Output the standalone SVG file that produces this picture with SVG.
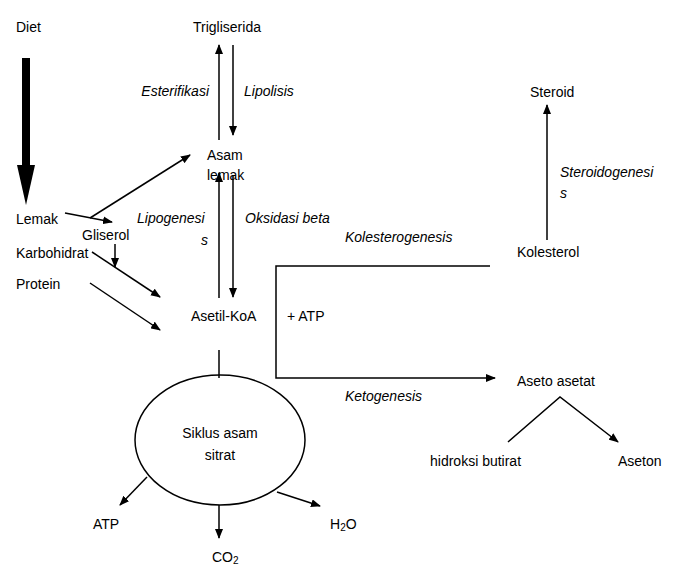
<svg xmlns="http://www.w3.org/2000/svg" width="681" height="572" viewBox="0 0 681 572">
<defs>
<marker id="a" markerWidth="10" markerHeight="8" refX="9" refY="4" orient="auto" markerUnits="userSpaceOnUse"><path d="M0,0 L10,4 L0,8 z" fill="#000"/></marker>
<style>
text{font-family:"Liberation Sans",Arial,sans-serif;font-size:14px;fill:#000}
.i{font-style:italic}
.c{stroke:#000;stroke-width:1.5;fill:none}
.m{marker-end:url(#a)}
</style>
</defs>
<rect width="681" height="572" fill="#fff"/>
<g id="connectors">
<rect x="22" y="58" width="8" height="110" fill="#000"/>
<path d="M17,165 L35,165 L26,205 z" fill="#000"/>
<line class="c m" x1="219" y1="140" x2="219" y2="45"/>
<line class="c m" x1="233" y1="45" x2="233" y2="135"/>
<line class="c m" x1="65" y1="213" x2="112" y2="222"/>
<line class="c m" x1="90" y1="218" x2="190" y2="155"/>
<line class="c m" x1="115" y1="244" x2="115" y2="267"/>
<line class="c m" x1="92" y1="252" x2="160" y2="297"/>
<line class="c m" x1="90" y1="283" x2="160" y2="330"/>
<line class="c m" x1="219" y1="298" x2="219" y2="173"/>
<line class="c m" x1="233" y1="175" x2="233" y2="297"/>
<line class="c" x1="219" y1="350" x2="219" y2="378"/>
<line class="c m" x1="147" y1="477" x2="120" y2="505"/>
<line class="c m" x1="219" y1="505" x2="219" y2="538"/>
<line class="c m" x1="277" y1="492" x2="320" y2="506"/>
<polyline class="c m" points="490,266 276,266 276,378 495,378"/>
<line class="c m" x1="547" y1="240" x2="547" y2="105"/>
<polyline class="c m" points="508,442 560,397 618,442"/>
</g>
<g id="diet"><text x="16" y="32">Diet</text></g>
<g id="trigliserida"><text x="227" y="32" text-anchor="middle">Trigliserida</text></g>
<g id="asam-lemak"><text x="207" y="160">Asam</text><text x="207" y="180">lemak</text></g>
<g id="lemak"><text x="16" y="224">Lemak</text></g>
<g id="gliserol"><text x="82" y="240">Gliserol</text></g>
<g id="karbohidrat"><text x="16" y="258">Karbohidrat</text></g>
<g id="protein"><text x="16" y="289">Protein</text></g>
<g id="asetil"><text x="191" y="321">Asetil-KoA</text></g>
<g id="siklus"><ellipse cx="220" cy="440" rx="85" ry="65" class="c"/><text x="220" y="438" text-anchor="middle">Siklus asam</text><text x="220" y="460" text-anchor="middle">sitrat</text></g>
<g id="atp"><text x="93" y="529">ATP</text></g>
<g id="co2"><text x="212" y="562">CO<tspan font-size="10" dy="2">2</tspan></text></g>
<g id="h2o"><text x="330" y="529">H<tspan font-size="10" dy="2">2</tspan><tspan dy="-2">O</tspan></text></g>
<g id="kolesterol"><text x="517" y="257">Kolesterol</text></g>
<g id="steroid"><text x="530" y="97">Steroid</text></g>
<g id="aseto"><text x="517" y="386">Aseto asetat</text></g>
<g id="hidroksi"><text x="430" y="466">hidroksi butirat</text></g>
<g id="aseton"><text x="618" y="466">Aseton</text></g>
<g id="labels">
<text class="i" x="209" y="96" text-anchor="end">Esterifikasi</text>
<text class="i" x="244" y="96">Lipolisis</text>
<text class="i" x="137" y="223">Lipogenesi</text>
<text class="i" x="201" y="245">s</text>
<text class="i" x="245" y="223">Oksidasi beta</text>
<text x="287" y="321">+ ATP</text>
<text class="i" x="345" y="242">Kolesterogenesis</text>
<text class="i" x="345" y="401">Ketogenesis</text>
<text class="i" x="560" y="177">Steroidogenesi</text>
<text class="i" x="560" y="198">s</text>
</g>
</svg>
